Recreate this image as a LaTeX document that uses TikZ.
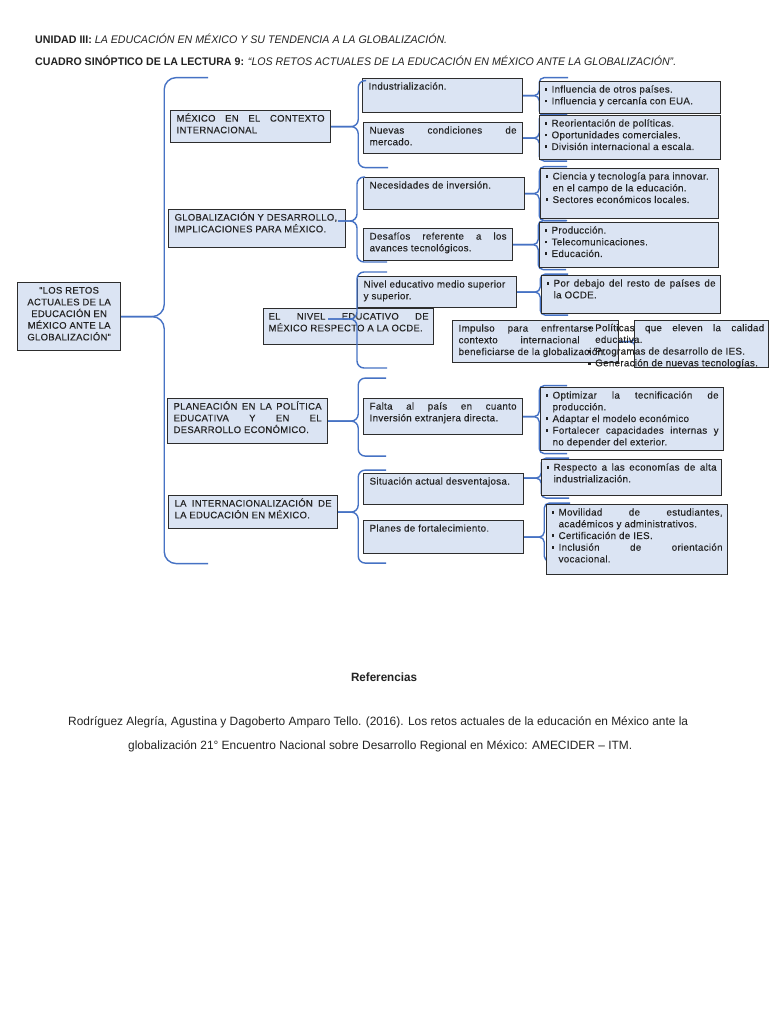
\documentclass[tikz,border=0pt]{standalone}
\usepackage{fontspec}
\setmainfont{Liberation Sans}
\newfontfamily\bxfont[LetterSpace=3,FakeBold=0.25]{Liberation Sans}
\usepackage{graphicx}
\usetikzlibrary{calc}
\definecolor{boxfill}{RGB}{219,228,243}
\definecolor{boxline}{RGB}{45,45,45}
\definecolor{brc}{RGB}{70,114,196}
\definecolor{txt}{RGB}{35,35,35}
\tikzset{
  boxst/.style={draw=boxline, line width=1.2pt, fill=boxfill, inner sep=0pt, anchor=north west, text=txt, font=\bxfont\fontsize{9.8}{11.7}\selectfont},
  bline/.style={draw=brc, line width=1.4pt},
  hdr/.style={anchor=base west, inner sep=0pt, text=txt},
  plaintxt/.style={anchor=north west, inner sep=0pt, text=txt, font=\bxfont\fontsize{9.8}{11.7}\selectfont},
}
\newcommand\capsz{\fontsize{9.5}{11.7}\selectfont}
\newcommand\itm{\par\hangindent=7pt\hangafter=1\noindent\makebox[7pt][l]{\raisebox{1.8pt}{\rule{2.8pt}{2.8pt}}}}
% box: name, x1, y1, x2, y2, pad, text
\newcommand\bx[7]{\node[boxst, minimum width={(#4-#2)*1pt}, minimum height={(#5-#3)*1pt}] (#1) at (#2,#3)
  {\parbox[t][\dimexpr #5pt-#3pt\relax][t]{\dimexpr #4pt-#2pt-#6pt-#6pt\relax}{\everypar{\rule{0pt}{9pt}}\hyphenpenalty=10000 \exhyphenpenalty=10000 \emergencystretch=1em \vspace*{2pt}#7}};}
% brace: tip, dx to spine, up, down, top arm, bottom arm, radius
\newcommand\brc[7]{%
  \draw[bline] (#1) -- ++({#2-#7},0) .. controls +({0.55*#7},0) and +(0,{0.55*#7}) .. ++(#7,-#7) -- ++(0,{-(#3-2*#7)}) .. controls +(0,{-0.55*#7}) and +({-0.55*#7},0) .. ++(#7,-#7) -- ++({#5-#7},0);
  \draw[bline] (#1) -- ++({#2-#7},0) .. controls +({0.55*#7},0) and +(0,{-0.55*#7}) .. ++(#7,#7) -- ++(0,{#4-2*#7}) .. controls +(0,{0.55*#7}) and +({-0.55*#7},0) .. ++(#7,#7) -- ++({#6-#7},0);
}
\begin{document}
\begin{tikzpicture}[x=1pt,y=-1pt]
\fill[white] (0,0) rectangle (768,1024);
\useasboundingbox (0,0) rectangle (768,1024);

% header
\node[hdr] (h1) at (35,44) {\resizebox{412pt}{\height}{\fontsize{11}{13}\selectfont\textbf{UNIDAD III:} \textit{LA EDUCACIÓN EN MÉXICO Y SU TENDENCIA A LA GLOBALIZACIÓN.}}};
\node[hdr] (h2) at (35,66) {\resizebox{641pt}{\height}{\fontsize{11}{13}\selectfont\textbf{CUADRO SINÓPTICO DE LA LECTURA 9:} \textit{“LOS RETOS ACTUALES DE LA EDUCACIÓN EN MÉXICO ANTE LA GLOBALIZACIÓN”.}}};

% level 1
\bx{main}{17}{282}{120}{350}{5}{\centering\capsz “LOS RETOS\\ACTUALES DE LA\\EDUCACIÓN EN\\MÉXICO ANTE LA\\GLOBALIZACIÓN”}

% level 2
\bx{mex}{170}{110}{330}{142}{6}{\capsz MÉXICO EN EL CONTEXTO\linebreak INTERNACIONAL}
\bx{glob}{168}{209}{345}{247}{6}{\capsz GLOBALIZACIÓN Y DESARROLLO,\\ IMPLICACIONES PARA MÉXICO.}
\bx{ocde}{263}{308}{433}{344}{5}{\capsz EL NIVEL EDUCATIVO DE\linebreak MÉXICO RESPECTO A LA OCDE.}
\bx{plan}{167}{398}{327}{443}{6}{\capsz PLANEACIÓN EN LA POLÍTICA\linebreak EDUCATIVA Y EN EL\linebreak DESARROLLO ECONÓMICO.}
\bx{intl}{168}{495}{337}{528}{6}{\capsz LA INTERNACIONALIZACIÓN DE\linebreak LA EDUCACIÓN EN MÉXICO.}

% level 3
\bx{ind}{362}{78}{522}{112}{6}{Industrialización.}
\bx{nue}{363}{122}{522}{153}{6}{Nuevas condiciones de\linebreak mercado.}
\bx{nec}{363}{177}{524}{209}{6}{Necesidades de inversión.}
\bx{des}{363}{228}{512}{260}{6}{Desafíos referente a los\linebreak avances tecnológicos.}
\bx{niv}{357}{276}{516}{307}{6}{Nivel educativo medio superior\\ y superior.}
\bx{imp}{452}{320}{618}{362}{6}{\makebox[135pt][s]{Impulso para enfrentarse}\\\makebox[121pt][s]{contexto internacional}\\beneficiarse de la globalización.}
\bx{fal}{363}{398}{522}{434}{6}{Falta al país en cuanto\linebreak Inversión extranjera directa.}
\bx{sit}{363}{473}{523}{504}{6}{Situación actual desventajosa.}
\bx{pla}{363}{520}{523}{553}{6}{Planes de fortalecimiento.}

% connectors level 3 -> level 4 (partly hidden by the boxes)
\brc{ind.east}{16}{18}{20}{29}{29}{5}
\brc{nue.east}{16}{24}{23}{28}{28}{5}
\brc{nec.east}{14}{27}{27}{28}{28}{5}
\brc{des.east}{25}{24}{25}{28}{28}{5}
\brc{niv.east}{23}{18}{23}{28}{28}{5}
\brc{imp.east}{16}{15}{15}{10}{10}{5}
\brc{fal.east}{16}{31}{37}{28}{28}{5}
\coordinate (st) at ($(sit.east)+(0,-11)$);
\brc{st}{17}{20}{20}{28}{28}{5}
\brc{pla.east}{20}{34}{24}{26}{26}{5}

% level 4
\bx{inf}{539}{81}{720}{113}{5}{\itm Influencia de otros países.\itm Influencia y cercanía con EUA.}
\bx{reo}{539}{115}{720}{159}{5}{\itm Reorientación de políticas.\itm Oportunidades comerciales.\itm División internacional a escala.}
\bx{cie}{540}{168}{718}{218}{5}{\itm Ciencia y tecnología para innovar.\\en el campo de la educación.\itm Sectores económicos locales.}
\bx{pro}{539}{222}{718}{267}{5}{\itm Producción.\itm Telecomunicaciones.\itm Educación.}
\bx{deb}{541}{275}{720}{313}{5}{\itm Por debajo del resto de países de\linebreak la OCDE.}
\bx{pol}{634}{320}{768}{367}{5}{}
\node[plaintxt] (poltx) at (588,320) {\parbox[t]{176pt}{\everypar{\rule{0pt}{9pt}}\hyphenpenalty=10000 \vspace*{2pt}\itm Políticas que eleven la calidad\linebreak educativa.\itm Programas de desarrollo de IES.\itm Generación de nuevas tecnologías.}};
\bx{opt}{540}{387}{723}{450}{5}{\itm Optimizar la tecnificación de\linebreak producción.\itm Adaptar el modelo económico\itm Fortalecer capacidades internas y\linebreak no depender del exterior.}
\bx{res}{541}{459}{721}{495}{5}{\itm Respecto a las economías de alta\linebreak industrialización.}
\bx{mov}{546}{504}{727}{574}{5}{\itm Movilidad de estudiantes,\linebreak académicos y administrativos.\itm Certificación de IES.\itm Inclusión de orientación\linebreak vocacional.}

% braces level 1 and 2
\brc{main.east}{43}{239}{247}{44}{44}{12}
\brc{mex.east}{27}{46}{41}{8}{30}{7}
\coordinate (gt) at (338,221);
\brc{gt}{19}{44}{41}{8}{30}{7}
\coordinate (ot) at (328,319);
\brc{ot}{29}{47}{49}{30}{30}{7}
\brc{plan.east}{30}{43}{35}{28}{28}{7}
\brc{intl.east}{20}{42}{51}{28}{28}{7}

% references
\node[anchor=base, inner sep=0pt, text=txt] (rt) at (384,681) {\resizebox{66pt}{\height}{\fontsize{12}{14}\selectfont\textbf{Referencias}}};
\node[hdr] (r1) at (68,725) {\resizebox{620pt}{\height}{\fontsize{12}{14}\selectfont Rodríguez Alegría, Agustina y Dagoberto Amparo Tello. (2016). Los retos actuales de la educación en México ante la}};
\node[hdr] (r2) at (128,749) {\resizebox{504pt}{\height}{\fontsize{12}{14}\selectfont globalización 21° Encuentro Nacional sobre Desarrollo Regional en México: AMECIDER – ITM.}};
\end{tikzpicture}
\end{document}
